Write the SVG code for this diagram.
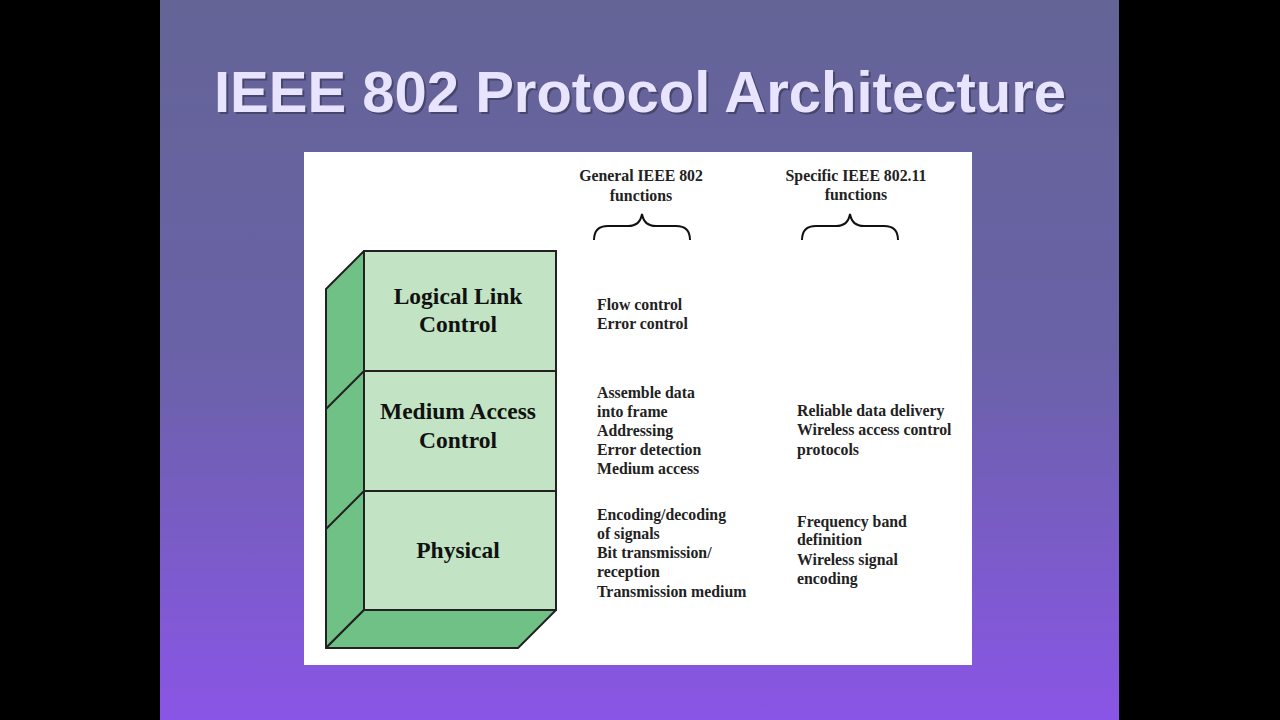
<svg xmlns="http://www.w3.org/2000/svg" width="1280" height="720" viewBox="0 0 1280 720">
<defs>
<linearGradient id="bg" x1="0" y1="0" x2="0" y2="1">
<stop offset="0" stop-color="#646496"/><stop offset="0.5" stop-color="#6a62a8"/><stop offset="1" stop-color="#8a55e6"/>
</linearGradient>
<style>
.t{font-family:"Liberation Serif",serif;font-weight:bold;font-size:15.8px;fill:#222}
.n{font-family:"Liberation Serif",serif;font-weight:bold;font-size:23.5px;fill:#111;text-anchor:middle}
.f{fill:#c2e4c4;stroke:#222;stroke-width:2}
.s{fill:#6fc186;stroke:#222;stroke-width:2;stroke-linejoin:round}
.b{fill:none;stroke:#111;stroke-width:2}
</style>
</defs>
<rect width="1280" height="720" fill="#000"/>
<rect x="160" y="0" width="959" height="720" fill="url(#bg)"/>
<text x="640" y="112" text-anchor="middle" font-family="Liberation Sans,sans-serif" font-weight="bold" font-size="58" fill="#3a3a5a" opacity="0.7" transform="translate(2,2)">IEEE 802 Protocol Architecture</text>
<text x="640" y="112" text-anchor="middle" font-family="Liberation Sans,sans-serif" font-weight="bold" font-size="58" fill="#e8e4ff">IEEE 802 Protocol Architecture</text>
<rect x="304" y="152" width="668" height="513" fill="#fff"/>
<g id="side">
<polygon class="s" points="364,251 326,289 326,648 364,610"/>
<polygon class="s" points="364,610 326,648 518,648 556,610"/>
<line x1="364" y1="371" x2="326" y2="409" stroke="#222" stroke-width="2"/>
<line x1="364" y1="491" x2="326" y2="529" stroke="#222" stroke-width="2"/>
</g>
<g id="llc"><rect class="f" x="364" y="251" width="192" height="120"/><text class="n" x="458" y="304">Logical Link</text><text class="n" x="458" y="332">Control</text></g>
<g id="mac"><rect class="f" x="364" y="371" width="192" height="120"/><text class="n" x="458" y="419">Medium Access</text><text class="n" x="458" y="448">Control</text></g>
<g id="phy"><rect class="f" x="364" y="491" width="192" height="119"/><text class="n" x="458" y="558">Physical</text></g>
<g id="connectors">
<path class="b" d="M594,240 Q594,226 608,226 L628,226 Q640,226 642,214 Q644,226 656,226 L676,226 Q690,226 690,240"/>
<path class="b" d="M802,240 Q802,226 816,226 L836,226 Q848,226 850,214 Q852,226 864,226 L884,226 Q898,226 898,240"/>
</g>
<g id="texts" class="t">
<text x="641" y="181" text-anchor="middle">General IEEE 802</text>
<text x="641" y="201" text-anchor="middle">functions</text>
<text x="856" y="181" text-anchor="middle">Specific IEEE 802.11</text>
<text x="856" y="200" text-anchor="middle">functions</text>
<text x="597" y="310">Flow control</text>
<text x="597" y="329">Error control</text>
<text x="597" y="398">Assemble data</text>
<text x="597" y="417">into frame</text>
<text x="597" y="436">Addressing</text>
<text x="597" y="455">Error detection</text>
<text x="597" y="474">Medium access</text>
<text x="797" y="416">Reliable data delivery</text>
<text x="797" y="435">Wireless access control</text>
<text x="797" y="455">protocols</text>
<text x="597" y="520">Encoding/decoding</text>
<text x="597" y="539">of signals</text>
<text x="597" y="558">Bit transmission/</text>
<text x="597" y="577">reception</text>
<text x="597" y="597">Transmission medium</text>
<text x="797" y="527">Frequency band</text>
<text x="797" y="545">definition</text>
<text x="797" y="565">Wireless signal</text>
<text x="797" y="584">encoding</text>
</g>
</svg>
